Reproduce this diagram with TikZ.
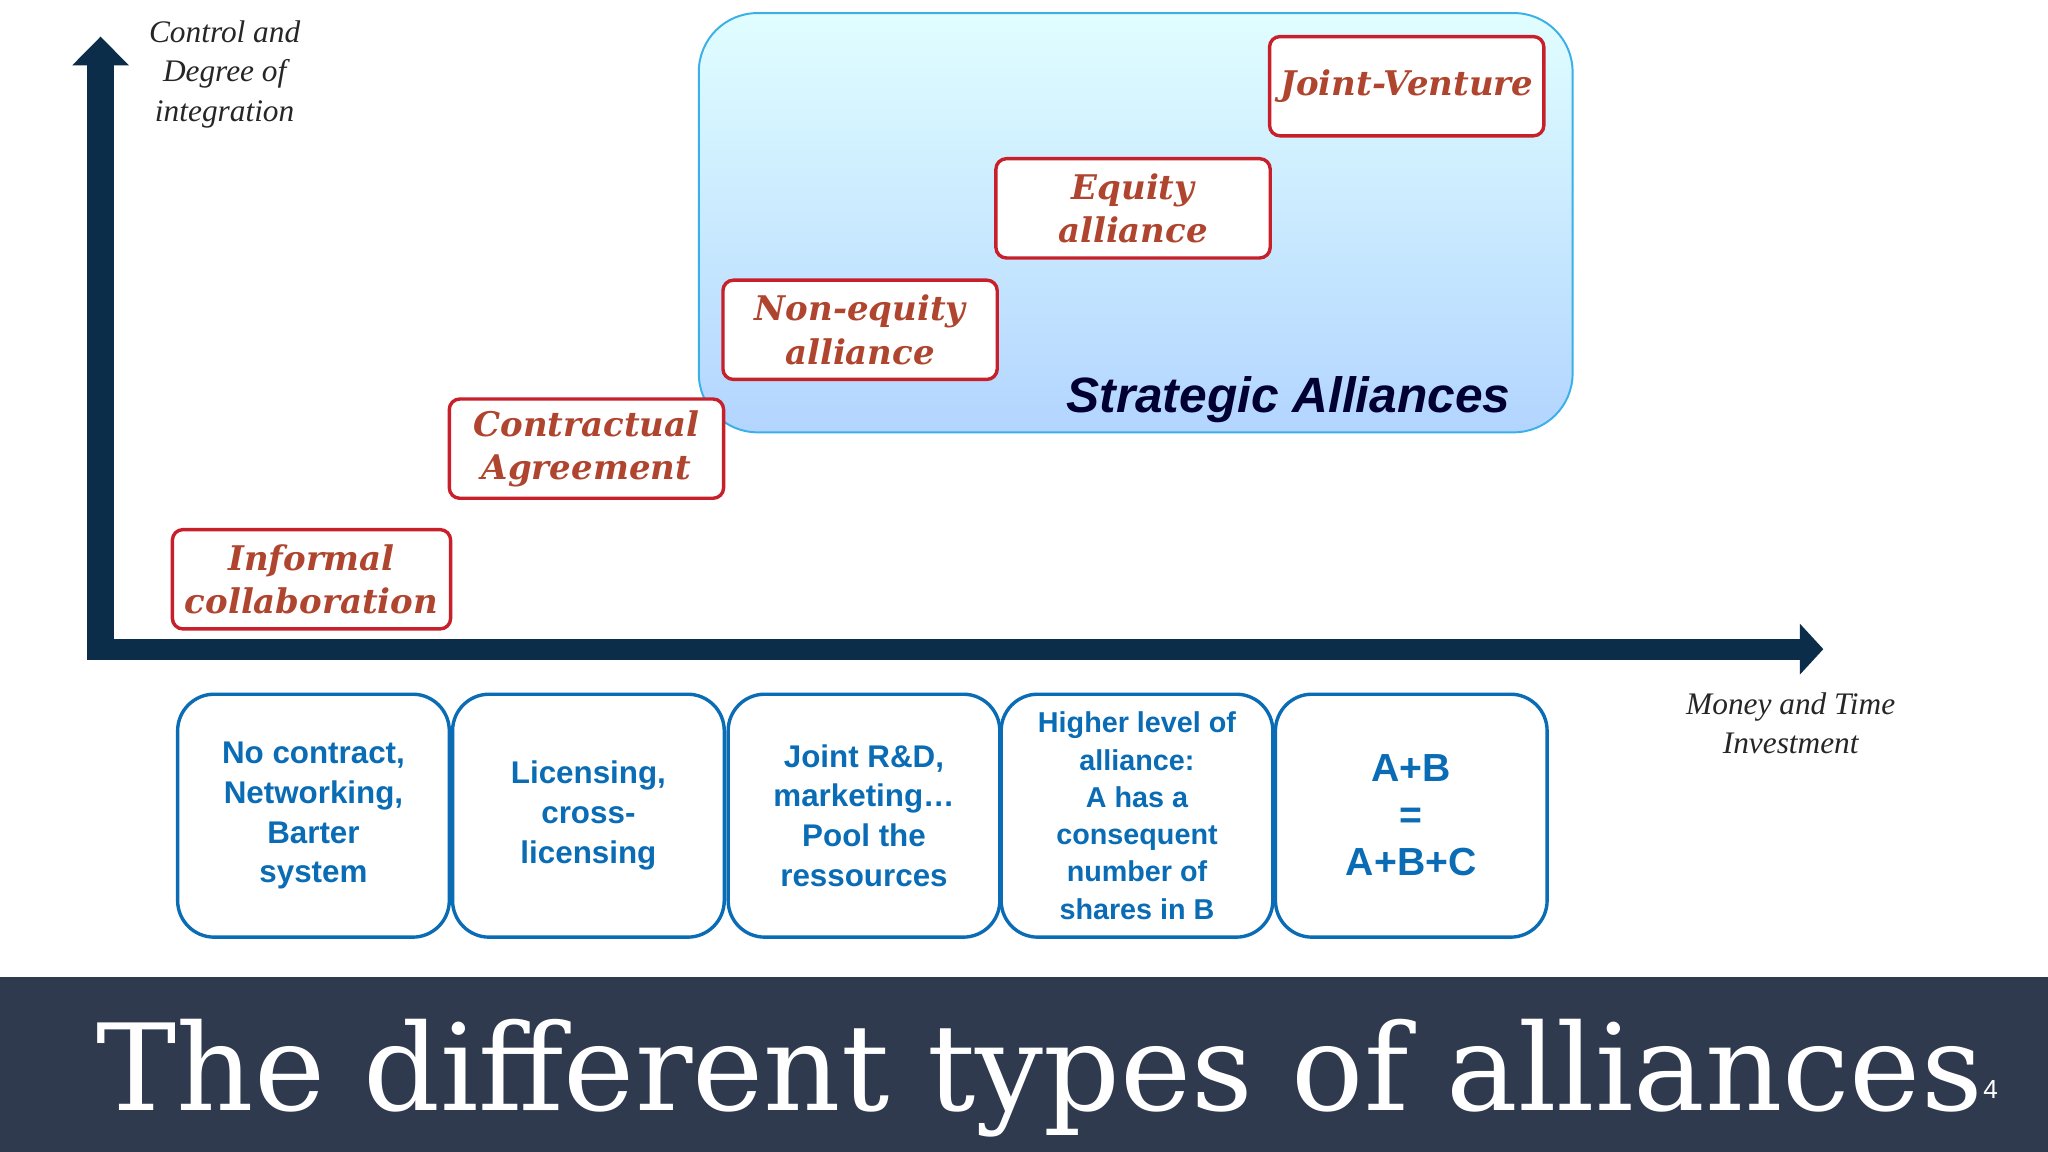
\documentclass[tikz,border=0pt]{standalone}
\usepackage{fontspec}
\setmainfont{Liberation Serif}
\setsansfont{Liberation Sans}
\newfontfamily\titlefont{DejaVu Serif}
\newfontfamily\slabfont{DejaVu Serif}
\usetikzlibrary{arrows.meta}
\definecolor{navy}{HTML}{0B2D4A}
\definecolor{band}{HTML}{2F3A4F}
\definecolor{redb}{HTML}{C8202A}
\definecolor{redt}{HTML}{B0452F}
\definecolor{blueb}{HTML}{0A6CB5}
\definecolor{skyb}{HTML}{3AB0E8}
\tikzset{
 redbox/.style={draw=redb,line width=2.6pt,fill=white,rounded corners=8pt,minimum width=210pt,minimum height=76pt,align=center,text=redt,font=\fontsize{26}{33}\selectfont\slabfont\bfseries\itshape},
 bluebox/.style={draw=blueb,line width=2.6pt,fill=white,rounded corners=28pt,minimum width=208pt,minimum height=186pt,align=center,text=blueb,font=\fontsize{24}{30.5}\selectfont\sffamily\bfseries},
 axlabel/.style={align=center,text=black!85,font=\fontsize{24}{30}\selectfont\itshape}
}
\begin{document}
\begin{tikzpicture}[x=1pt,y=-1pt]
\useasboundingbox (0,0) rectangle (1568,882);
\fill[white] (0,0) rectangle (1568,882);
% band
\fill[band] (0,748) rectangle (1568,882);
\node[text=white,font=\fontsize{92}{92}\selectfont\titlefont,anchor=base] (title) at (796,850) {The different types of alliances};
\node[text=white,font=\fontsize{20}{20}\selectfont\sffamily] (pg) at (1524,834) {4};
% strategic alliances
\shade[top color=blue!4!cyan!12,bottom color=cyan!45!blue!30,draw=skyb,line width=1.5pt,rounded corners=45pt] (535,10) rectangle (1204,331);
\node[anchor=base east,text=black!80!blue,font=\fontsize{38}{38}\selectfont\sffamily\bfseries\itshape] (sa) at (1160,316) {Strategic Alliances};
% axes
\coordinate (o) at (67,497);
\coordinate (yt) at (77,28);
\coordinate (xt) at (1396,497);
\draw[navy,line width=21pt,-{Triangle[length=22pt,width=42pt]}] (77,505) -- (yt);
\draw[navy,line width=16pt,-{Triangle[length=18pt,width=38pt]}] (67,497) -- (xt);
\node[axlabel] (yl) at (172,57) {Control and\\Degree of\\integration};
\node[axlabel] (xl) at (1371,554) {Money and Time\\Investment};
% red boxes
\node[redbox,minimum width=213pt] (inf) at (238.5,443.5) {Informal\\collaboration};
\node[redbox] (con) at (449,343.5) {Contractual\\Agreement};
\node[redbox] (neq) at (658.5,252.5) {Non-equity\\alliance};
\node[redbox] (eq) at (867.5,159.5) {Equity\\alliance};
\node[redbox] (jv) at (1077,66) {Joint-Venture};
% blue boxes
\node[bluebox] (b1) at (240,624.5) {No contract,\\Networking,\\Barter\\system};
\node[bluebox] (b2) at (450.5,624.5) {Licensing,\\cross-\\licensing};
\node[bluebox] (b3) at (661.5,624.5) {Joint R\&D,\\marketing…\\Pool the\\ressources};
\node[bluebox,font=\fontsize{22}{28.5}\selectfont\sffamily\bfseries] (b4) at (870.5,624.5) {Higher level of\\alliance:\\A has a\\consequent\\number of\\shares in B};
\node[bluebox,font=\fontsize{30}{36}\selectfont\sffamily\bfseries] (b5) at (1080.5,624.5) {A+B\\=\\A+B+C};
\end{tikzpicture}
\end{document}
